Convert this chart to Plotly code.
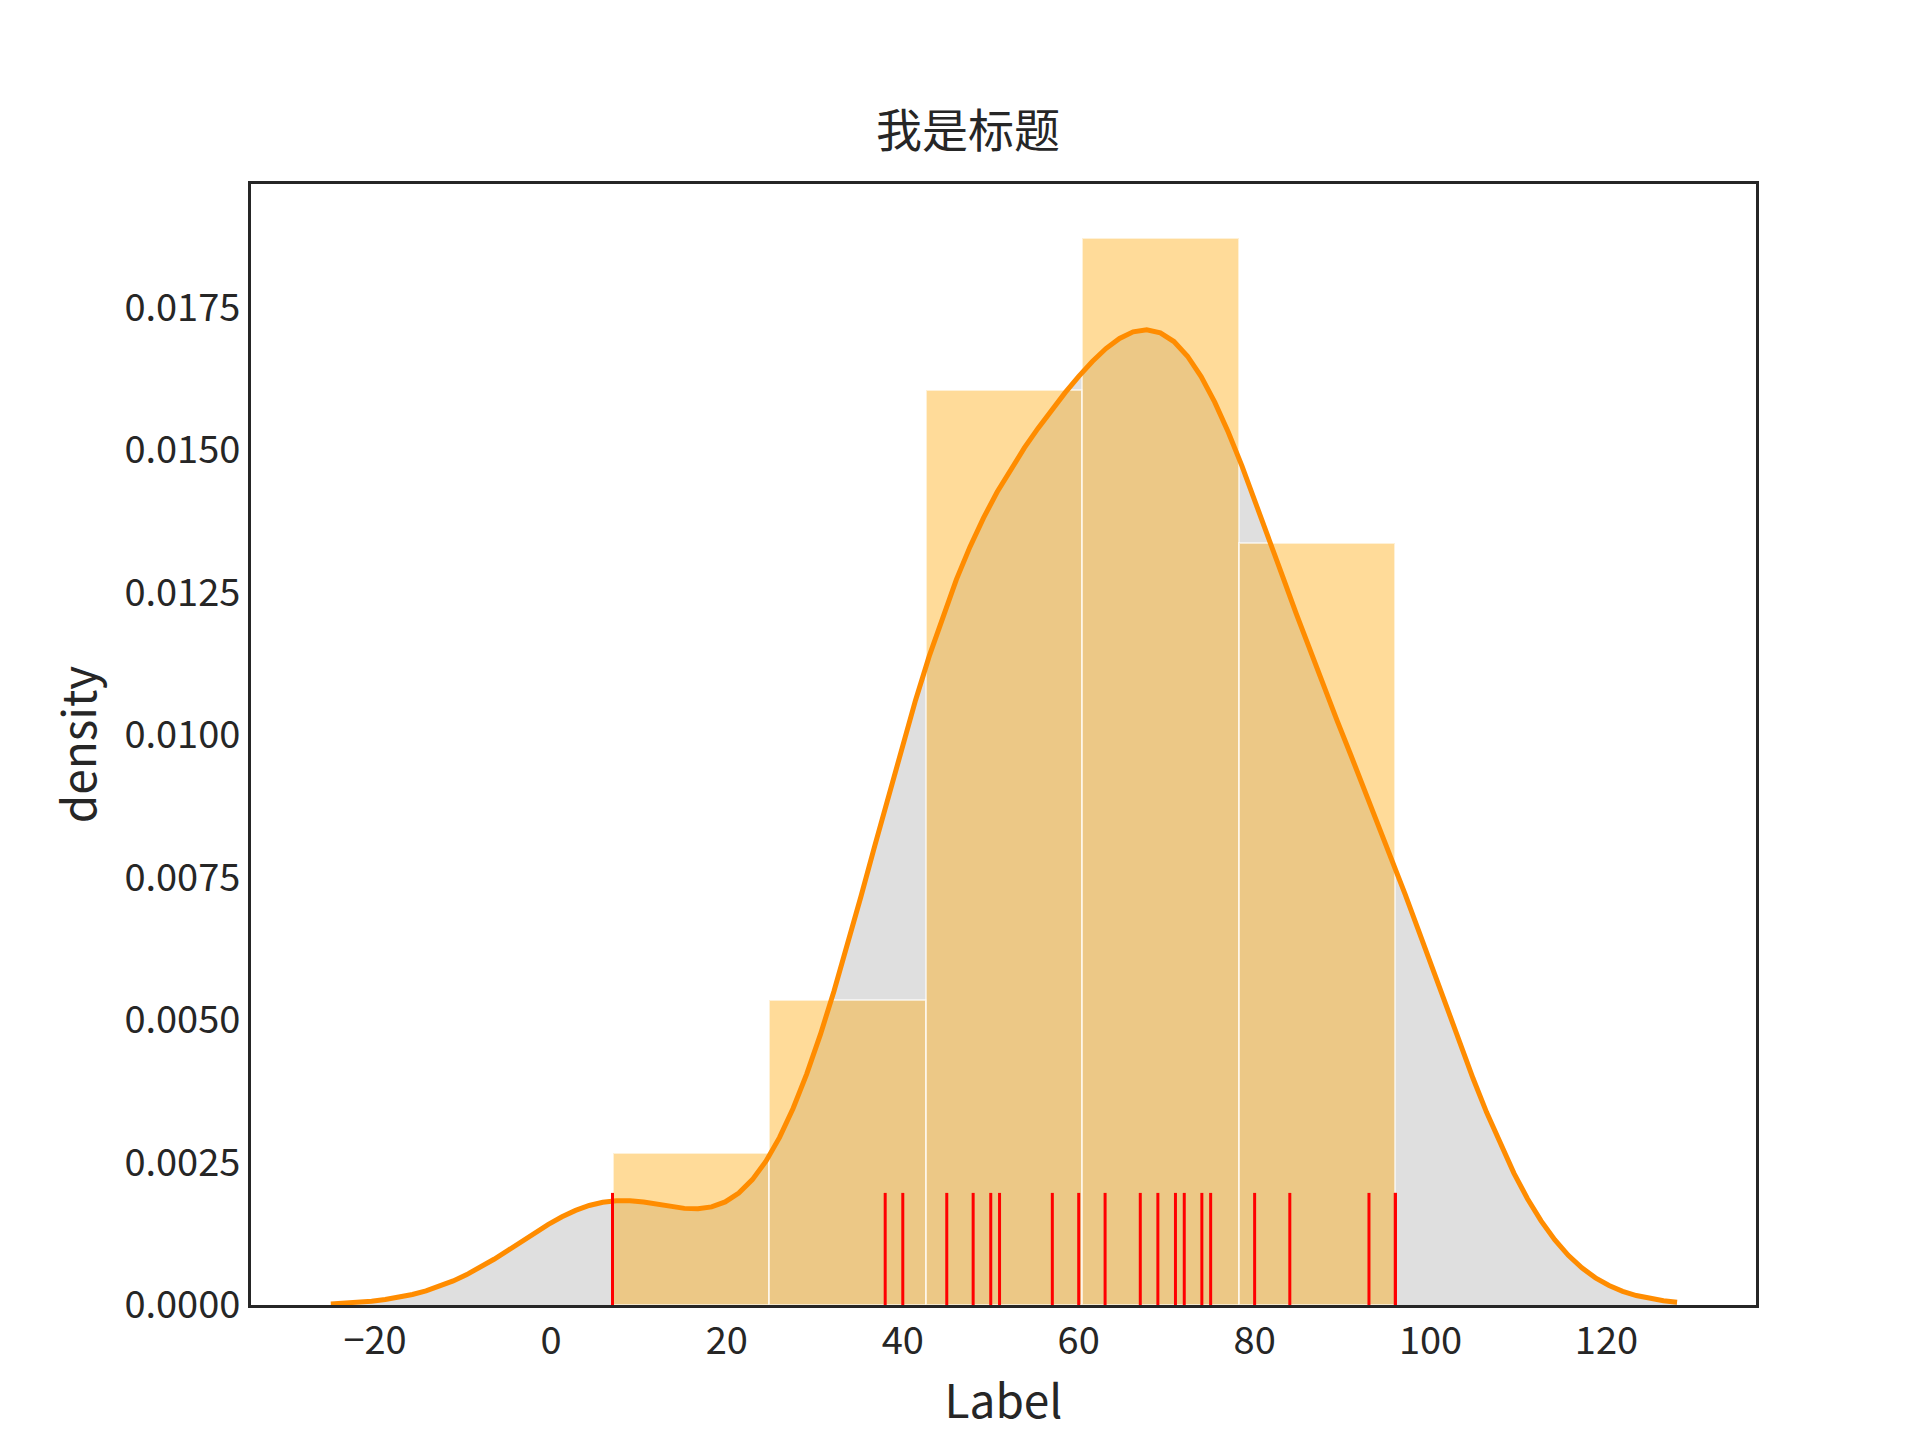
import numpy as np
import plotly.graph_objects as go

values = [7, 38, 40, 45, 48, 50, 51, 57, 60, 63, 67, 69, 71, 72, 74, 75, 80, 84, 93, 96, 96]
x_ticks = [-20, 0, 20, 40, 60, 80, 100, 120]
y_ticks = [0, 0.0025, 0.005, 0.0075, 0.01, 0.0125, 0.015, 0.0175]
n_bins = 5

data = np.array(values, dtype=float)
edges = np.linspace(data.min(), data.max(), n_bins + 1)
counts, _ = np.histogram(data, bins=edges)
width = edges[1] - edges[0]
dens = counts / (len(data) * width)

# gaussian kde, statsmodels-style scott bandwidth, cut=3
q75, q25 = np.percentile(data, [75, 25])
A = min(data.std(ddof=1), (q75 - q25) / 1.349)
bw = 1.059 * A * len(data) ** (-1 / 5)
grid = np.linspace(data.min() - 3 * bw, data.max() + 3 * bw, 100)
kde = np.exp(-0.5 * ((grid[:, None] - data[None, :]) / bw) ** 2).sum(axis=1) / (len(data) * bw * np.sqrt(2 * np.pi))

font = "Noto Sans CJK SC"
xr = [-34.1, 137]
yr = [0, 0.01967]
fig = go.Figure()
fig.add_trace(go.Scatter(x=grid, y=kde, fill="tozeroy", fillcolor="#dfdfdf", mode="none", showlegend=False))
fig.add_trace(go.Bar(x=(edges[:-1] + edges[1:]) / 2, y=dens, width=width, xaxis="x2", yaxis="y2",
                     marker=dict(color="rgba(255,165,0,0.4)", line=dict(color="rgba(255,255,255,0.6)", width=2)),
                     showlegend=False))
fig.add_trace(go.Scatter(x=grid, y=kde, mode="lines", xaxis="x2", yaxis="y2",
                         line=dict(color="#ff8c00", width=5), showlegend=False))

for v in values:
    fig.add_shape(type="line", x0=v, x1=v, xref="x2", y0=0, y1=0.1, yref="y2 domain",
                  line=dict(color="red", width=3))

fig.update_layout(
    width=1920, height=1440, plot_bgcolor="white", paper_bgcolor="white",
    margin=dict(l=243, r=172, t=176, b=143),
    font=dict(family=font, size=38, color="#262626"),
    title=dict(text="我是标题", x=0.5, xanchor="center", y=0.915, yanchor="middle", font=dict(size=46)),
    bargap=0,
    xaxis=dict(range=xr, tickvals=x_ticks, showgrid=False, zeroline=False,
               showline=True, mirror=True, linecolor="#262626", linewidth=3, ticks="",
               title=dict(text="Label", standoff=4)),
    yaxis=dict(range=yr, tickvals=y_ticks, tickformat=".4f", showgrid=False,
               zeroline=False, showline=True, mirror=True, linecolor="#262626", linewidth=3, ticks="",
               title=dict(text="density", standoff=14)),
    xaxis2=dict(overlaying="x", range=xr, visible=False),
    yaxis2=dict(overlaying="y", range=yr, visible=False),
)

fig.write_html("out.html")
